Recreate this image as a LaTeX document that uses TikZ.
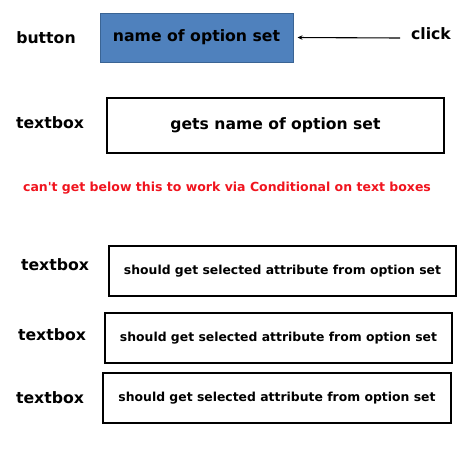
\documentclass[tikz,border=0pt]{standalone}
\usepackage{fontspec}
\setmainfont{DejaVu Sans}[Ligatures=TeXOff]
\usetikzlibrary{arrows.meta}
\definecolor{btnblue}{HTML}{4F81BD}
\definecolor{btnedge}{HTML}{3A6494}
\definecolor{notered}{HTML}{F0141E}
\tikzset{every picture/.style={line width=0.75pt}}
\tikzset{
    label text/.style={font=\bfseries\fontsize{15.7}{18}\selectfont},
    option box/.style={draw=black, line width=1.1pt, inner sep=0pt, font=\bfseries\fontsize{12.4}{14}\selectfont},
    button box/.style={draw=btnedge, fill=btnblue, line width=1pt, inner sep=0pt, font=\bfseries\fontsize{15.7}{18}\selectfont}
}

\begin{document}
\begin{tikzpicture}[x=1pt, y=-1pt]
    	\useasboundingbox (0, 0) rectangle (474, 474);
    	\node[button box, minimum width=193pt, minimum height=49pt](B1) at (196.5, 37.5){name of option set};
    	\node[label text](L1) at (46, 38){button};
    	\node[label text](C1) at (431, 34){click};
    	\coordinate (C2) at (400, 38);
    	\draw[line width=1.1pt, -{Stealth[length=5pt, width=4.5pt]}, shorten >=4pt] (C2) -- (B1.east);
    	\node[option box, minimum width=337pt, minimum height=55pt, font=\bfseries\fontsize{15.6}{18}\selectfont](T1) at (275.5, 125.5){gets name of option set};
    	\node[label text](L2) at (50, 123){textbox};
    	\node[text=notered, font=\bfseries\fontsize{12.5}{14}\selectfont](N1) at (227, 188){can't get below this to work via Conditional on text boxes};
    	\node[option box, minimum width=347pt, minimum height=50pt](T2) at (282.5, 271){should get selected attribute from option set};
    	\node[label text](L3) at (55, 265){textbox};
    	\node[option box, minimum width=347pt, minimum height=50pt](T3) at (278.5, 338){should get selected attribute from option set};
    	\node[label text](L4) at (52, 335){textbox};
    	\node[option box, minimum width=348pt, minimum height=50pt](T4) at (277, 398){should get selected attribute from option set};
    	\node[label text](L5) at (50, 398){textbox};
    \end{tikzpicture}
\end{document}
